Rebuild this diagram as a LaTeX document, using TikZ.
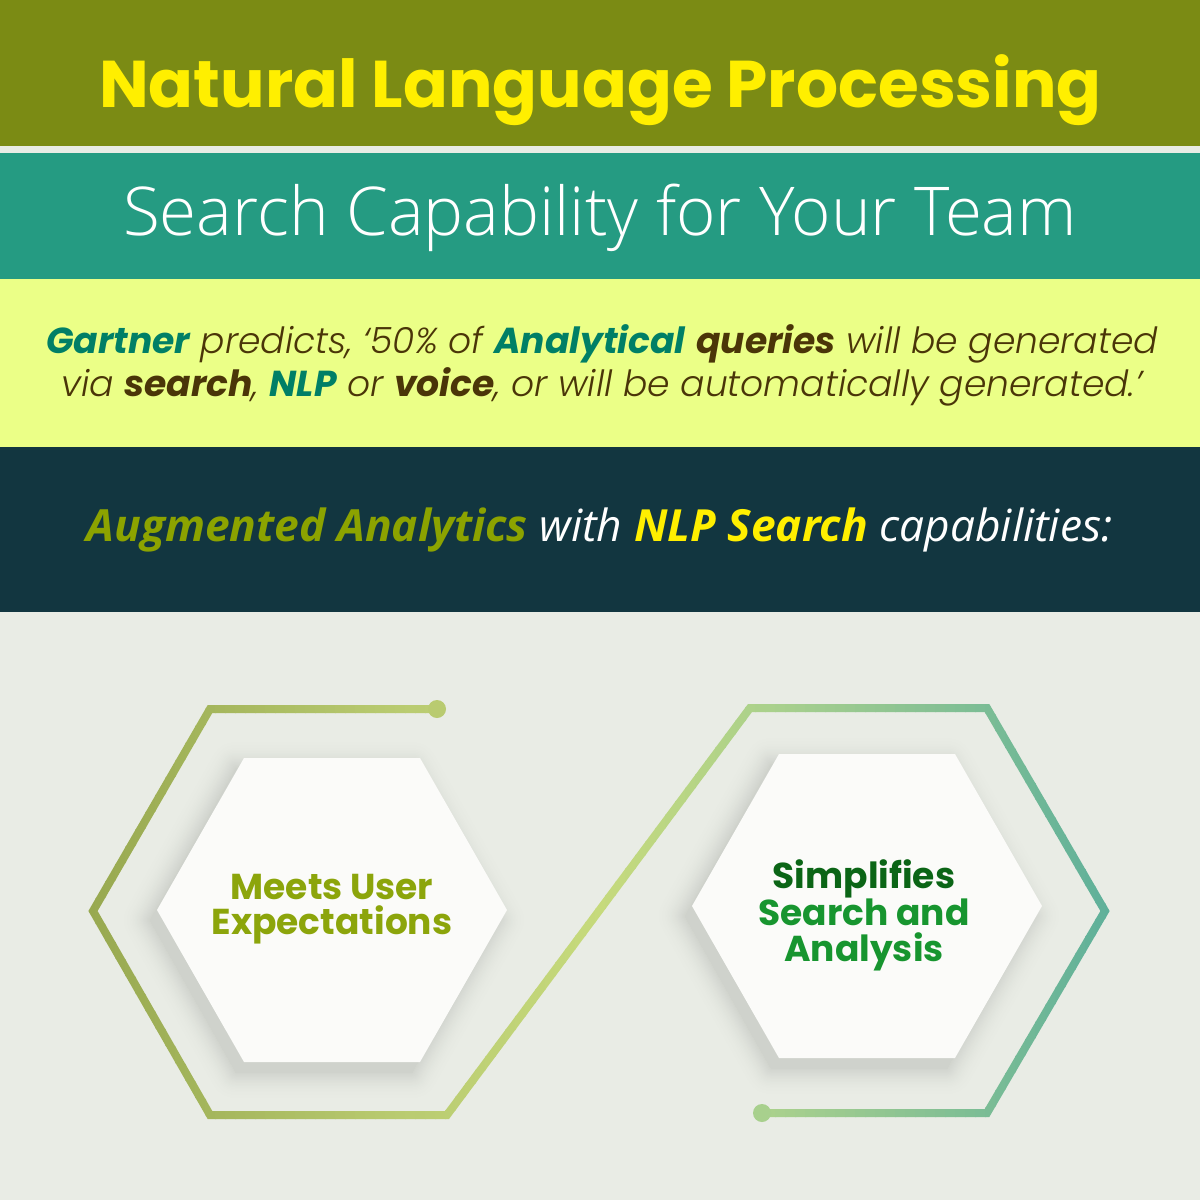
\documentclass[tikz,border=0pt]{standalone}
\usepackage{fontspec}
\setmainfont{Poppins}
\newfontfamily\poplight[ItalicFont={Poppins Light Italic},BoldFont={Poppins},BoldItalicFont={Poppins Bold Italic}]{Poppins Light}
\newfontfamily\opensans{Open Sans}
\newfontfamily\opensanslight{Open Sans Light}
\definecolor{bgc}{HTML}{E9ECE5}
\definecolor{oliveband}{HTML}{7B8B14}
\definecolor{tealband}{HTML}{259B82}
\definecolor{limeband}{HTML}{EBFF87}
\definecolor{darkband}{HTML}{123640}
\definecolor{titley}{HTML}{FFEF00}
\definecolor{dgreen}{HTML}{007F66}
\definecolor{dbrown}{HTML}{4A3508}
\definecolor{augc}{HTML}{8CA300}
\definecolor{meetc}{HTML}{8CA50B}
\definecolor{simpc}{HTML}{0B6516}
\definecolor{searchc}{HTML}{17952F}
\definecolor{hexc}{HTML}{FBFBF9}
\definecolor{shadowc}{HTML}{CFD2CC}
\definecolor{ga}{HTML}{97A84F}
\definecolor{gb}{HTML}{B9CB70}
\definecolor{gc}{HTML}{C6DA7C}
\definecolor{gd}{HTML}{A8D08D}
\definecolor{ge}{HTML}{5FB09A}
\tikzset{
  band/.style={fill=#1,draw=none},
  hexface/.style={fill=hexc,draw=none},
  hexlabel/.style={align=center,font=\fontsize{36}{35.5}\selectfont\bfseries},
  linetrace/.style={line width=8pt,line join=miter}
}
\newcommand{\tracepath}{(p1) -- (p2) -- (p3) -- (p4) -- (p5) -- (p6) -- (p7) -- (p8) -- (p9) -- (p10)}
\begin{document}
\begin{tikzpicture}[x=1pt,y=-1pt]
\useasboundingbox (0,0) rectangle (1200,1200);
\fill[band=bgc] (0,0) rectangle (1200,1200);
\fill[band=oliveband] (0,0) rectangle (1200,146);
\fill[band=tealband] (0,153) rectangle (1200,279);
\fill[band=limeband] (0,279) rectangle (1200,447);
\fill[band=darkband] (0,447) rectangle (1200,612);
\node[text=titley,font=\fontsize{66.1}{70}\selectfont\bfseries] (title) at (600.5,90) {Natural Language Processing};
\node[text=white,font=\opensanslight\fontsize{67.3}{70}\selectfont] (sub) at (600,218) {Search Capability for Your Team};
\node[align=center,text=dbrown,font=\poplight\fontsize{36.1}{43}\selectfont\itshape] (quote) at (602,365) {{\bfseries\color{dgreen}Gartner} predicts, ‘50\% of {\bfseries\color{dgreen}Analytical} {\bfseries queries} will be generated\\via {\bfseries search}, {\bfseries\color{dgreen}NLP} or {\bfseries voice}, or will be automatically generated.’};
\node[text=white,font=\opensans\fontsize{44.3}{50}\selectfont\itshape] (aug) at (599.5,530) {{\bfseries\color{augc}Augmented Analytics} with {\bfseries\color{titley}NLP Search} capabilities:};
% hexagon soft shadows
\foreach \cx/\cy in {332/910,867/906}{
  \begin{scope}[shift={(\cx-8,\cy+10)}]
    \foreach \w in {60,57,...,0}{
      \pgfmathsetmacro{\st}{100*(1-\w/60)*(1-\w/60)}
      \draw[draw=shadowc!\st!bgc,fill=shadowc!\st!bgc,line width=\w pt,line join=round]
        (-174,0) -- (-88,-152) -- (88,-152) -- (174,0) -- (88,152) -- (-88,152) -- cycle;
    }
  \end{scope}
}
% gradient trace
\coordinate (p1) at (437,709);\coordinate (p2) at (210,709);\coordinate (p3) at (93,911);
\coordinate (p4) at (210,1115);\coordinate (p5) at (447,1115);\coordinate (p6) at (750,708);
\coordinate (p7) at (987,708);\coordinate (p8) at (1105,911);\coordinate (p9) at (987,1113);
\coordinate (p10) at (762,1113);
\foreach \i in {0,...,104}{
  \pgfmathtruncatemacro{\xa}{85+\i*10}
  \pgfmathtruncatemacro{\xb}{\xa+11}
  \pgfmathtruncatemacro{\xm}{\xa+5}
  \ifnum\xm<400
    \pgfmathsetmacro{\fr}{(\xm-85)/3.15}\colorlet{tc}{gb!\fr!ga}
  \else\ifnum\xm<600
    \pgfmathsetmacro{\fr}{(\xm-400)/2}\colorlet{tc}{gc!\fr!gb}
  \else\ifnum\xm<780
    \pgfmathsetmacro{\fr}{(\xm-600)/1.8}\colorlet{tc}{gd!\fr!gc}
  \else
    \pgfmathsetmacro{\fr}{(\xm-780)/3.3}\colorlet{tc}{ge!\fr!gd}
  \fi\fi\fi
  \begin{scope}
    \clip (\xa,690) rectangle (\xb,1130);
    \draw[linetrace,draw=tc] \tracepath;
  \end{scope}
}
\fill[gb] (p1) circle (9);
\fill[gd] (p10) circle (9);
\foreach \cx/\cy in {332/910,867/906}{
  \fill[hexface] (\cx-175,\cy) -- (\cx-88,\cy-152) -- (\cx+88,\cy-152) -- (\cx+175,\cy) -- (\cx+88,\cy+152) -- (\cx-88,\cy+152) -- cycle;
}
\node[hexlabel,text=meetc] (meets) at (332,909) {Meets User\\Expectations};
\node[hexlabel,text=searchc] (simp) at (864,915) {{\color{simpc}Simplifies}\\Search and\\Analysis};
\end{tikzpicture}
\end{document}
